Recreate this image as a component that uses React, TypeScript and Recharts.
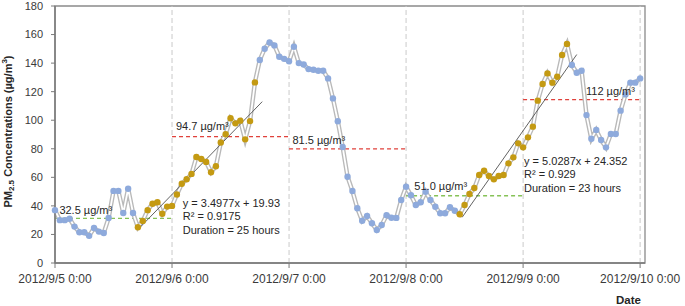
import { ComposedChart, Line, XAxis, YAxis, ReferenceLine, ReferenceDot, ReferenceArea } from 'recharts'

// hourly PM2.5, 2012/9/5 0:00 .. 2012/9/10 0:00
const PM25 = [
  37, 30, 30, 31, 25.5, 21.5, 21.5, 19, 24.5, 22, 21, 31.5, 50.5, 50.5, 35, 52, 35,
  25, 29.5, 37, 41.5, 42.5, 34.5, 39.5, 40, 48, 55.5, 58.7, 62.4, 74.2, 72.8, 70.8, 63.6, 67.8,
  84.4, 90.2, 101.4, 97.8, 99.7, 86.6, 99.4, 126.5,
  142.2, 150.1, 154.4, 152.4, 144.5, 143, 141.3, 151.5, 140, 139, 135.8, 135.3, 134.6, 134.6,
  129.3, 115.3, 99.3, 81.2, 60.4, 50.4, 38.3, 29.6, 32.9, 27.8, 23.1, 26.6, 33.4, 31.7, 31.6,
  44.1, 53.4, 47.4, 40.6, 42.5, 49.9, 44.1, 39.4, 34.8, 34.8, 39, 36.6,
  34.1, 40.6, 48.3, 52.5, 61.6, 64.6, 60.9, 58.6, 60.9, 61.6, 69.8, 74, 83.8, 81, 88, 95.5,
  113.7, 125.4, 132.8, 126.3, 130.5, 145.7, 153.4,
  138.7, 133.3, 134.7, 103.6, 87, 93.1, 86.1, 81, 90.3, 90.3, 106.7, 118.1, 126.3, 126.3, 129.3,
]

// growth episodes (first and last hour, inclusive)
const EPISODE_STARTS = [17, 83]
const EPISODE_ENDS = [41, 105]

const DAY_TICKS = [0, 24, 48, 72, 96, 120]
const DAY_LABELS = ['2012/9/5 0:00', '2012/9/6 0:00', '2012/9/7 0:00', '2012/9/8 0:00', '2012/9/9 0:00', '2012/9/10 0:00']

// daily mean dashed lines, as drawn
const MEAN_LEVELS = [31.3, 88.5, 80, 47.1, 114.4]
const MEAN_LABELS = ['32.5 µg/m³', '94.7 µg/m³', '81.5 µg/m³', '51.0 µg/m³', '112 µg/m³']

// fitted trend lines, end points
const TREND_A = [
  { hour: 17, fit: 23.4 },
  { hour: 42.5, fit: 113 },
]
const TREND_B = [
  { hour: 83.5, fit: 32 },
  { hour: 107, fit: 146 },
]

const FIT_A_TEXT = ['y = 3.4977x + 19.93', 'R² = 0.9175', 'Duration = 25 hours']
const FIT_B_TEXT = ['y = 5.0287x + 24.352', 'R² = 0.929', 'Duration = 23 hours']

const FONT = '"Liberation Sans", Arial, sans-serif'
const BLUE = '#8eaadc'
const GOLD = '#c49a12'
const RED = '#e0413b'
const GREEN = '#86c257'

const rows = PM25.map((v, i) => ({ hour: i, pm: v }))

const inEpisode = (h: number) => EPISODE_STARTS.some((s, k) => h >= s && h <= EPISODE_ENDS[k])

function PointDot(props: any) {
  const { cx, cy, payload } = props
  if (cx == null || cy == null) return null
  return <circle key={payload.hour} cx={cx} cy={cy} r={3.2} fill={inEpisode(payload.hour) ? GOLD : BLUE} />
}

function NoteText({ viewBox, lines }: any) {
  const x = viewBox.x
  const y = viewBox.y
  return (
    <text x={x} y={y} fontSize={11} fill="#262626" fontFamily={FONT}>
      {lines.map((t: string, i: number) => (
        <tspan key={i} x={x} dy={i === 0 ? 0 : 13.6}>
          {t}
        </tspan>
      ))}
    </text>
  )
}

function YTitle({ viewBox }: any) {
  const cx = viewBox.x - 7.5
  const cy = viewBox.y + viewBox.height / 2 - 3
  return (
    <text
      x={cx}
      y={cy}
      transform={`rotate(-90 ${cx} ${cy})`}
      textAnchor="middle"
      dominantBaseline="central"
      fontSize={11}
      fontWeight="bold"
      fill="#262626"
      fontFamily={FONT}
    >
      PM
      <tspan fontSize={8} dy={3}>2.5</tspan>
      <tspan dy={-3}> Concentrations (µg/m</tspan>
      <tspan fontSize={8} dy={-4}>3</tspan>
      <tspan dy={4}>)</tspan>
    </text>
  )
}

function XTitle({ viewBox }: any) {
  return (
    <text
      x={viewBox.x + viewBox.width - 16.5}
      y={viewBox.y + 41}
      textAnchor="middle"
      fontSize={11.5}
      fontWeight="bold"
      fill="#262626"
      fontFamily={FONT}
    >
      Date
    </text>
  )
}

export default function App() {
  const xTick = { fontSize: 12, fill: '#3a3a3a', fontFamily: FONT }
  const yTick = { fontSize: 11, fill: '#3a3a3a', fontFamily: FONT }
  const meanAt = (i: number) => [
    { hour: DAY_TICKS[i], mean: MEAN_LEVELS[i] },
    { hour: DAY_TICKS[i + 1], mean: MEAN_LEVELS[i] },
  ]
  return (
    <div style={{ position: 'absolute', left: 0, top: 0, background: '#fff' }}>
      <ComposedChart width={685} height={306} data={rows} margin={{ top: 6, right: 40, bottom: 0, left: 15 }}>
        <XAxis
          dataKey="hour"
          type="number"
          domain={[0, 121]}
          ticks={DAY_TICKS}
          tickFormatter={(v: number) => DAY_LABELS[DAY_TICKS.indexOf(v)]}
          interval={0}
          height={43}
          tick={xTick}
          tickSize={5}
          tickMargin={6}
          stroke="#7a7a7a"
          axisLine={{ stroke: '#7a7a7a', strokeWidth: 1.5 }}
          label={<XTitle />}
        />
        <YAxis
          domain={[0, 180]}
          ticks={[0, 20, 40, 60, 80, 100, 120, 140, 160, 180]}
          width={40}
          tick={yTick}
          tickSize={4}
          tickMargin={8}
          stroke="#7a7a7a"
          axisLine={{ stroke: '#7a7a7a', strokeWidth: 1.5 }}
          label={<YTitle />}
        />
        <ReferenceArea x1={0} x2={121} y1={0} y2={180} fill="none" stroke="#8a8a8a" strokeWidth={1.3} />
        {DAY_TICKS.slice(1).map((d) => (
          <ReferenceLine key={d} x={d} stroke="#cacaca" strokeDasharray="5 3" />
        ))}
        {MEAN_LEVELS.map((_, i) => (
          <Line
            key={'mean' + i}
            data={meanAt(i)}
            dataKey="mean"
            stroke={i === 0 || i === 3 ? GREEN : RED}
            strokeWidth={1.3}
            strokeDasharray="4 3"
            dot={false}
            isAnimationActive={false}
          />
        ))}
        <Line dataKey="pm" stroke="#b9b9b9" strokeWidth={4.5} dot={false} isAnimationActive={false} />
        <Line dataKey="pm" stroke="#ffffff" strokeWidth={1.8} dot={<PointDot />} isAnimationActive={false} />
        <Line data={TREND_A} dataKey="fit" stroke="#505050" strokeWidth={0.9} dot={false} isAnimationActive={false} />
        <Line data={TREND_B} dataKey="fit" stroke="#505050" strokeWidth={0.9} dot={false} isAnimationActive={false} />
        <ReferenceDot x={0.9} y={34.3} r={0} label={<NoteText lines={[MEAN_LABELS[0]]} />} />
        <ReferenceDot x={24.8} y={93.1} r={0} label={<NoteText lines={[MEAN_LABELS[1]]} />} />
        <ReferenceDot x={48.7} y={83.3} r={0} label={<NoteText lines={[MEAN_LABELS[2]]} />} />
        <ReferenceDot x={73.7} y={51.1} r={0} label={<NoteText lines={[MEAN_LABELS[3]]} />} />
        <ReferenceDot x={108.9} y={117.6} r={0} label={<NoteText lines={[MEAN_LABELS[4]]} />} />
        <ReferenceDot x={26.2} y={39.3} r={0} label={<NoteText lines={FIT_A_TEXT} />} />
        <ReferenceDot x={96.2} y={68.8} r={0} label={<NoteText lines={FIT_B_TEXT} />} />
      </ComposedChart>
    </div>
  )
}
